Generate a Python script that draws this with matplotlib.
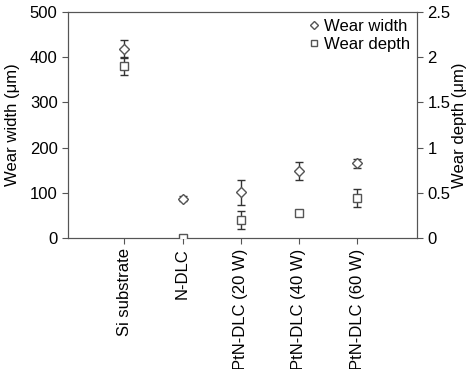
import matplotlib
matplotlib.use("Agg")
import matplotlib.pyplot as plt
from matplotlib.lines import Line2D

plt.rcParams['font.family'] = ['Liberation Sans', 'DejaVu Sans']

categories = ["Si substrate", "N-DLC", "PtN-DLC (20 W)", "PtN-DLC (40 W)", "PtN-DLC (60 W)"]
wear_width = [418, 87, 101, 148, 165]
wear_width_err = [20, 5, 28, 20, 10]
wear_depth = [1.90, 0.0, 0.20, 0.28, 0.44]
wear_depth_err = [0.10, 0.0, 0.10, 0.02, 0.10]

gray = '#555555'
fig = plt.figure(figsize=(4.74, 3.69), dpi=100)
ax = fig.add_axes([68/474, 1-238/369, (417-68)/474, (238-12)/369])
ax2 = ax.twinx()

x = list(range(len(categories)))
ax.errorbar(x, wear_width, yerr=wear_width_err, fmt='D', ms=5.5, mfc='white', mec=gray,
            mew=1.0, ecolor='#333333', elinewidth=1.0, capsize=3, capthick=1.0, zorder=3)
ax2.errorbar(x, wear_depth, yerr=wear_depth_err, fmt='s', ms=6, mfc='white', mec=gray,
             mew=1.0, ecolor='#333333', elinewidth=1.0, capsize=3, capthick=1.0, zorder=3)

ax.set_xlim(-0.97, 5.03)
ax.set_ylim(0, 500)
ax2.set_ylim(0, 2.5)
ax.set_yticks([0, 100, 200, 300, 400, 500])
ax2.set_yticks([0, 0.5, 1, 1.5, 2, 2.5])
ax2.set_yticklabels(['0', '0.5', '1', '1.5', '2', '2.5'])
ax.set_xticks(x)
ax.set_xticklabels(categories, rotation=90, fontsize=12)
ax.set_ylabel('Wear width (μm)', fontsize=12, labelpad=7)
ax2.set_ylabel('Wear depth (μm)', fontsize=12, labelpad=1)

for a in (ax, ax2):
    for s in a.spines.values():
        s.set_color(gray)
    a.tick_params(colors=gray, labelcolor='black', labelsize=12, direction='out', length=4)

h1 = Line2D([], [], ls='none', marker='D', ms=4.5, mfc='white', mec=gray, mew=1.0)
h2 = Line2D([], [], ls='none', marker='s', ms=5, mfc='white', mec=gray, mew=1.0)
ax.legend([h1, h2], ['Wear width', 'Wear depth'], loc='upper right', frameon=False,
          fontsize=12, handletextpad=0.1, borderaxespad=0.3, labelspacing=0.2,
          handlelength=1.0, borderpad=0.1)

fig.savefig('out.png', dpi=100)
